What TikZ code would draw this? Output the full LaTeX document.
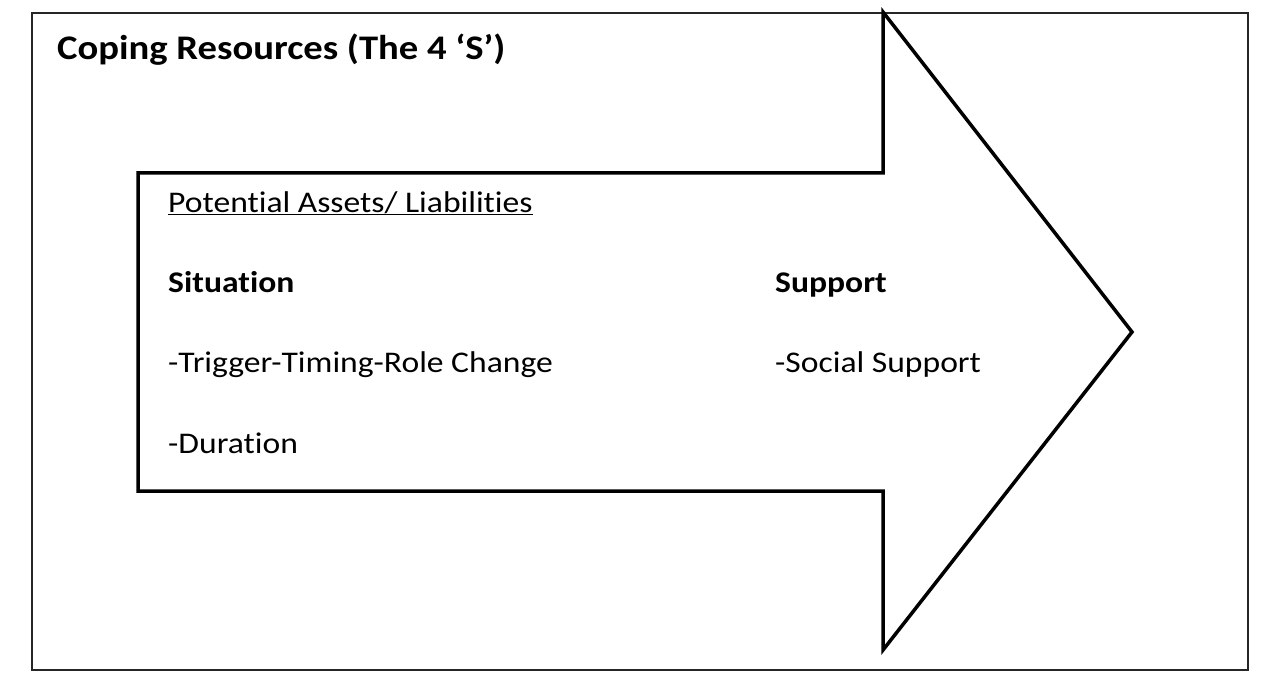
\documentclass[tikz,border=0pt]{standalone}
\usepackage{fontspec}
\setmainfont[Ligatures=CommonOff, FakeStretch=1.12]{Carlito}
\begin{document}
\begin{tikzpicture}[x=1pt,y=-1pt,
  lbl/.style={anchor=base west, inner sep=0pt, font=\fontsize{30}{36}\selectfont},
  ttl/.style={lbl, font=\fontsize{34.5}{41}\selectfont\bfseries},
  hdr/.style={lbl, font=\fontsize{30}{36}\selectfont\bfseries}]
\useasboundingbox (0,0) rectangle (1263,679);
\draw[line width=2pt, draw=black!85] (32,13) rectangle (1248,670);
\coordinate (bl) at (138,491);
\coordinate (tl) at (138,173);
\coordinate (tr) at (883,173);
\coordinate (ht) at (883,12);
\coordinate (tip) at (1132,332);
\coordinate (hb) at (883,650);
\coordinate (br) at (883,491);
\draw[line width=3.5pt, line join=miter, fill=white] (tl) -- (tr) -- (ht) -- (tip) -- (hb) -- (br) -- (bl) -- cycle;
\node[ttl] (title) at (57,60) {Coping Resources (The 4 ‘S’)};
\node[lbl] (pal) at (168,212) {\underline{Potential Assets/ Liabilities}};
\node[hdr] (sit) at (168,292) {Situation};
\node[lbl] (trig) at (168,372) {-Trigger-Timing-Role Change};
\node[lbl] (dur) at (168,453) {-Duration};
\node[hdr] (sup) at (775,292) {Support};
\node[lbl] (soc) at (775,372) {-Social Support};
\end{tikzpicture}
\end{document}
